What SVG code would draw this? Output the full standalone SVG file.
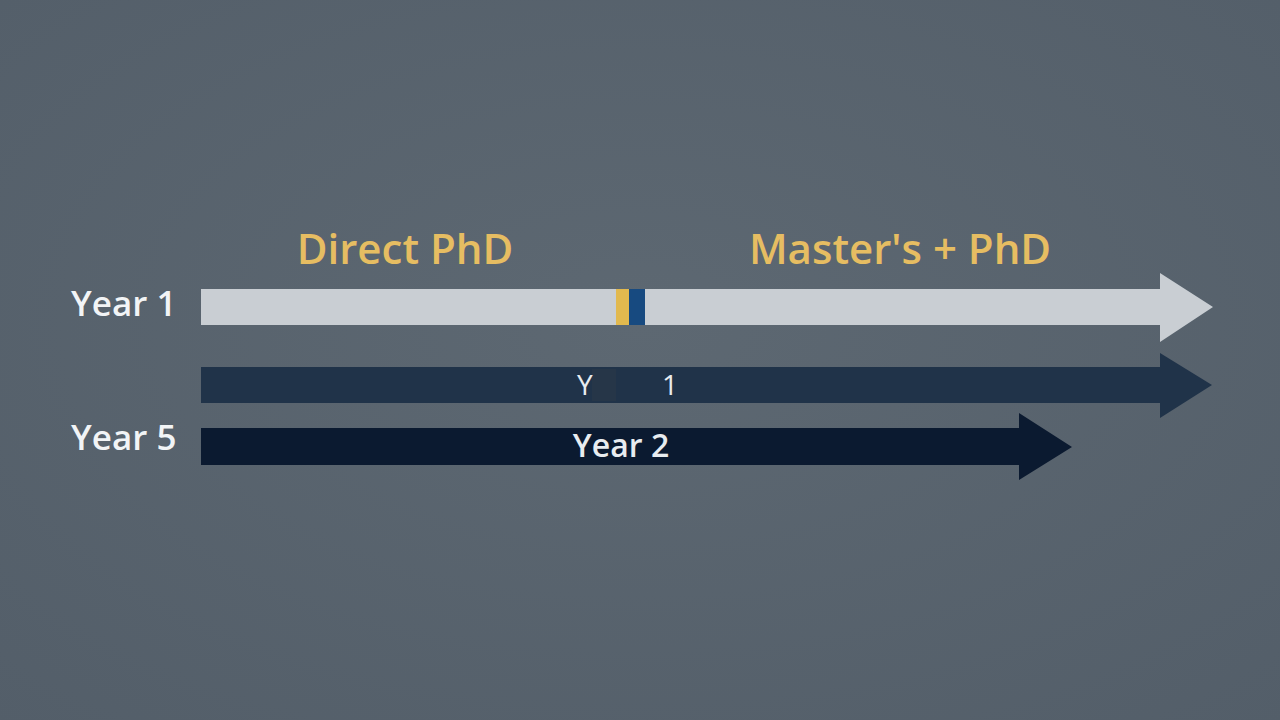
<svg xmlns="http://www.w3.org/2000/svg" width="1280" height="720" viewBox="0 0 1280 720">
<defs>
<radialGradient id="bg" cx="50%" cy="45%" r="75%">
<stop offset="0" stop-color="#5d6872"/>
<stop offset="1" stop-color="#535e69"/>
</radialGradient>
<style>
.lbl{font-family:"Open Sans","Noto Sans","Liberation Sans",sans-serif;font-weight:600;}
.title{fill:#e6bd62;font-size:42px;}
.year{fill:#f2f4f6;font-size:35px;}
.inbar{fill:#e8ecf0;font-size:32px;}
</style>
</defs>
<rect width="1280" height="720" fill="url(#bg)"/>
<g id="connectors">
<g id="arrow-top">
<path d="M201 289 H1160 V273 L1213 307 L1160 342 V325 H201 Z" fill="#c9ced3"/>
<rect x="616" y="289" width="13" height="36" fill="#e2b94e"/>
<rect x="629" y="289" width="16" height="36" fill="#174a80"/>
</g>
<g id="arrow-middle">
<path d="M201 367 H1160 V353 L1212 385 L1160 418 V403 H201 Z" fill="#203349"/>
<rect x="592" y="369" width="24" height="32" fill="#2c3847" opacity="0.6"/>
</g>
<g id="arrow-bottom">
<path d="M201 428 H1019 V413 L1072 447 L1019 480 V465 H201 Z" fill="#0b1a30"/>
</g>
</g>
<g id="node-direct-phd"><text class="lbl title" x="405" y="264" text-anchor="middle">Direct PhD</text></g>
<g id="node-masters-phd"><text class="lbl title" x="900" y="264" text-anchor="middle">Master's + PhD</text></g>
<g id="node-year1"><text class="lbl year" x="71" y="316">Year 1</text></g>
<g id="node-year5"><text class="lbl year" x="71" y="450">Year 5</text></g>
<g id="node-year-mid">
<text class="lbl" x="577" y="395" style="font-size:28px;font-weight:400;fill:#e8ecf0">Y</text>
<text class="lbl" x="662" y="395" style="font-size:28px;font-weight:400;fill:#e8ecf0">1</text>
</g>
<g id="node-year2"><text class="lbl inbar" x="621" y="457" text-anchor="middle">Year 2</text></g>
</svg>
